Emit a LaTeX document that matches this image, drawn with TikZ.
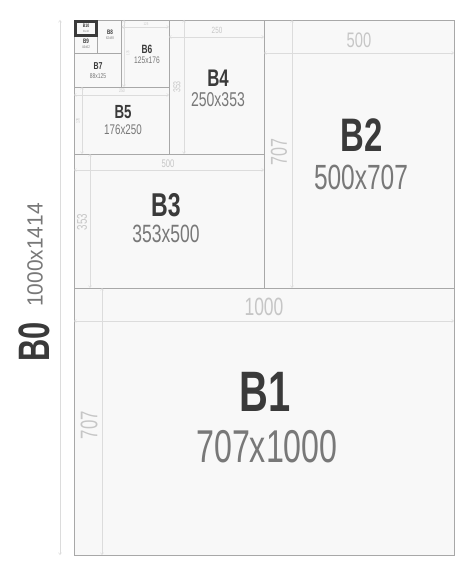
\documentclass[tikz,border=0pt]{standalone}
\usepackage{fontspec}
\setmainfont{Liberation Sans}
\newfontfamily\condf[FakeStretch=0.7]{Liberation Sans}
\newfontfamily\semif[FakeStretch=0.95]{Liberation Sans}
\usetikzlibrary{arrows.meta}
\definecolor{boxfill}{HTML}{F8F8F8}
\definecolor{boxline}{HTML}{A8A8A8}
\definecolor{dimcol}{HTML}{DCDCDC}
\definecolor{dimtext}{HTML}{C6C6C6}
\definecolor{sizetext}{HTML}{787878}
\definecolor{titletext}{HTML}{3A3A3A}
\begin{document}
\begin{tikzpicture}[x=1pt,y=-1pt,
  paper/.style={draw=boxline, fill=boxfill, line width=0.9pt},
  dimln/.style={draw=dimcol, line width=0.5pt, {Straight Barb[length=2pt,width=3pt]}-{Straight Barb[length=2pt,width=3pt]}},
  title/.style={text=titletext, inner sep=0pt, font=\condf\bfseries\fontsize{#1}{#1}\selectfont},
  sizelbl/.style={text=sizetext, inner sep=0pt, font=\condf\fontsize{#1}{#1}\selectfont},
  dimlbl/.style={text=dimtext, inner sep=0pt, font=\condf\fontsize{#1}{#1}\selectfont}]
\useasboundingbox (0,0) rectangle (474,577);
\fill[white] (0,0) rectangle (474,577);

% sheets
\draw[paper] (74,20) rectangle (454,555);
\draw[paper] (74,288) rectangle (454,555);
\draw[paper] (264,20) rectangle (454,288);
\draw[paper] (74,154) rectangle (264,288);
\draw[paper] (169,20) rectangle (264,154);
\draw[paper] (74,87) rectangle (169,154);
\draw[paper] (121.5,20) rectangle (169,87);
\draw[paper] (74,53.5) rectangle (121.5,87);
\draw[paper] (97.8,20) rectangle (121.5,53.5);
\draw[paper] (74,36.7) rectangle (97.8,53.5);
\draw[draw=titletext, fill=boxfill, line width=2.5pt] (75.6,21.6) rectangle (96.4,35.4);

% dimension coordinates
\coordinate (b0t) at (60,20);   \coordinate (b0b) at (60,555);
\coordinate (b1l) at (74,321);  \coordinate (b1r) at (454,321);
\coordinate (b1t) at (102,288); \coordinate (b1b) at (102,555);
\coordinate (b2l) at (264,53);  \coordinate (b2r) at (454,53);
\coordinate (b2t) at (292,20);  \coordinate (b2b) at (292,288);
\coordinate (b3l) at (74,170);  \coordinate (b3r) at (264,170);
\coordinate (b3t) at (90,154);  \coordinate (b3b) at (90,288);
\coordinate (b4l) at (169,37);  \coordinate (b4r) at (264,37);
\coordinate (b4t) at (184,20);  \coordinate (b4b) at (184,154);
\coordinate (b5l) at (74,95);   \coordinate (b5r) at (169,95);
\coordinate (b5t) at (82,87);   \coordinate (b5b) at (82,154);
\coordinate (b6l) at (121.5,27);\coordinate (b6r) at (169,27);
\coordinate (b6t) at (124,20);  \coordinate (b6b) at (124,87);

\draw[dimln] (b0t) -- (b0b);
\draw[dimln] (b1l) -- (b1r);
\draw[dimln] (b1t) -- (b1b);
\draw[dimln] (b2l) -- (b2r);
\draw[dimln] (b2t) -- (b2b);
\draw[dimln] (b3l) -- (b3r);
\draw[dimln] (b3t) -- (b3b);
\draw[dimln] (b4l) -- (b4r);
\draw[dimln] (b4t) -- (b4b);
\draw[dimln] (b5l) -- (b5r);
\draw[dimln] (b5t) -- (b5b);
\draw[dimln] (b6l) -- (b6r);
\draw[dimln] (b6t) -- (b6b);

% dimension labels
\node[dimlbl=25] (d1w) at (264,307) {1000};
\node[dimlbl=24, rotate=90] (d1h) at (89,425) {707};
\node[dimlbl=21] (d2w) at (359,40) {500};
\node[dimlbl=23, rotate=90] (d2h) at (279,152) {707};
\node[dimlbl=11] (d3w) at (168,164) {500};
\node[dimlbl=14, rotate=90] (d3h) at (82,222) {353};
\node[dimlbl=9] (d4w) at (217,30) {250};
\node[dimlbl=10, rotate=90] (d4h) at (177,87) {353};
\node[dimlbl=5] (d5w) at (122,91) {250};
\node[dimlbl=5, rotate=90] (d5h) at (78,121) {176};
\node[dimlbl=4] (d6w) at (146,24) {125};
\node[dimlbl=4, rotate=90] (d6h) at (128,53) {176};

% sheet labels
\node[title=57] (t1) at (265,392) {B1};
\node[sizelbl=46] (s1) at (267,447) {707x1000};
\node[title=47] (t2) at (362,135) {B2};
\node[sizelbl=35] (s2) at (361,177) {500x707};
\node[title=33] (t3) at (166,205) {B3};
\node[sizelbl=25] (s3) at (166,234) {353x500};
\node[title=24] (t4) at (218,78) {B4};
\node[sizelbl=20] (s4) at (218,100) {250x353};
\node[title=19] (t5) at (123,112) {B5};
\node[sizelbl=14] (s5) at (123,130) {176x250};
\node[title=12] (t6) at (147,49) {B6};
\node[sizelbl=9.5] (s6) at (147,60) {125x176};
\node[title=10] (t7) at (98,66) {B7};
\node[sizelbl=7] (s7) at (98,76) {88x125};
\node[title=6.5] (t8) at (110,32) {B8};
\node[sizelbl=4] (s8) at (110,38) {62x88};
\node[title=6.5] (t9) at (86,41) {B9};
\node[sizelbl=4] (s9) at (86,47) {44x62};
\node[title=5] (t10) at (86,26) {B10};
\node[sizelbl=3] (s10) at (86,31) {31x44};

% B0 label
\node[title=44, rotate=90] (t0) at (34,342) {B0};
\node[text=sizetext, inner sep=0pt, font=\semif\fontsize{22}{22}\selectfont, rotate=90] (s0) at (35,255) {1000x1414};
\end{tikzpicture}
\end{document}
